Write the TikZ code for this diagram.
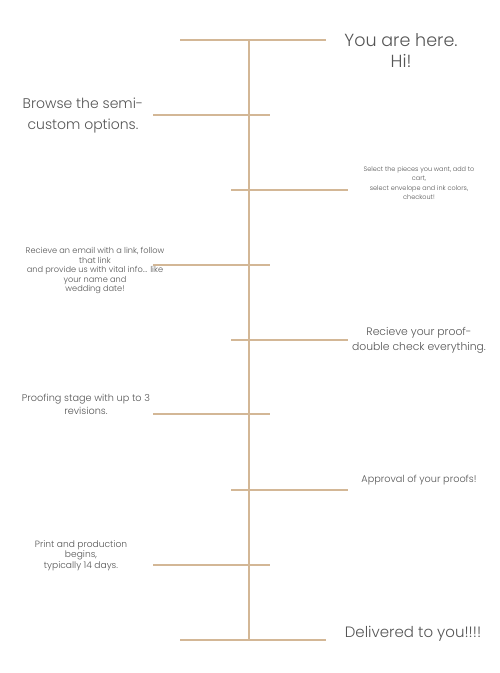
\documentclass[tikz,border=0pt]{standalone}
\usepackage{fontspec}
\setmainfont{Poppins}[UprightFont=* Light]
\usepackage{xcolor}
\usetikzlibrary{positioning}
\definecolor{tanbar}{RGB}{211,183,150}
\definecolor{ink}{RGB}{85,85,85}

\begin{document}
\begin{tikzpicture}[x=1pt,y=-1pt,
  bar/.style={draw=tanbar,line width=2.6pt},
  big/.style={text=ink,align=center,inner sep=0pt,anchor=north,
              font=\fontsize{17.5}{21}\selectfont},
  mid/.style={text=ink,align=center,inner sep=0pt,anchor=north,
              font=\fontsize{9.7}{12.5}\selectfont},
  note/.style={text=ink,align=center,inner sep=0pt,anchor=north,
               font=\fontsize{6.5}{9.5}\selectfont}]
  \useasboundingbox (0,0) rectangle (500,673);
  % spine and end bars
  \coordinate (top) at (249,40);
  \coordinate (bot) at (249,640);
  \coordinate (topL) at (180,40);  \coordinate (topR) at (326,40);
  \coordinate (botL) at (180,640); \coordinate (botR) at (326,640);
  \draw[bar] (top) -- (bot);
  \draw[bar] (topL) -- (topR);
  \draw[bar] (botL) -- (botR);
  % ticks on the left
  \coordinate (l1a) at (153,115); \coordinate (l1b) at (270,115);
  \coordinate (l2a) at (153,265); \coordinate (l2b) at (270,265);
  \coordinate (l3a) at (153,414); \coordinate (l3b) at (270,414);
  \coordinate (l4a) at (153,565); \coordinate (l4b) at (270,565);
  \draw[bar] (l1a) -- (l1b);
  \draw[bar] (l2a) -- (l2b);
  \draw[bar] (l3a) -- (l3b);
  \draw[bar] (l4a) -- (l4b);
  % ticks on the right
  \coordinate (r1a) at (231,190); \coordinate (r1b) at (348,190);
  \coordinate (r2a) at (231,340); \coordinate (r2b) at (348,340);
  \coordinate (r3a) at (231,490); \coordinate (r3b) at (348,490);
  \draw[bar] (r1a) -- (r1b);
  \draw[bar] (r2a) -- (r2b);
  \draw[bar] (r3a) -- (r3b);
  % labels
  \node[big] (here) at (401,33) {You are here.\\Hi!};
  \node[big,font=\fontsize{14}{21}\selectfont] (browse) at (83,98) {Browse the semi-\\custom options.};
  \node[note] (select) at (419,166) {Select the pieces you want, add to\\cart,\\select envelope and ink colors,\\checkout!};
  \node[note,font=\fontsize{8.2}{9.6}\selectfont] (email) at (95,247) {Recieve an email with a link, follow\\that link\\and provide us with vital info... like\\your name and\\wedding date!};
  \node[mid,font=\fontsize{10.8}{15}\selectfont] (proof) at (419,327) {Recieve your proof-\\double check everything.};
  \node[mid] (revise) at (86,394) {Proofing stage with up to 3\\revisions.};
  \node[mid] (approve) at (419,475) {Approval of your proofs!};
  \node[mid,font=\fontsize{9.1}{10.5}\selectfont] (print) at (81,540) {Print and production\\begins,\\typically 14 days.};
  \node[big,font=\fontsize{15}{21}\selectfont] (done) at (413,626) {Delivered to you!!!!};
\end{tikzpicture}
\end{document}
